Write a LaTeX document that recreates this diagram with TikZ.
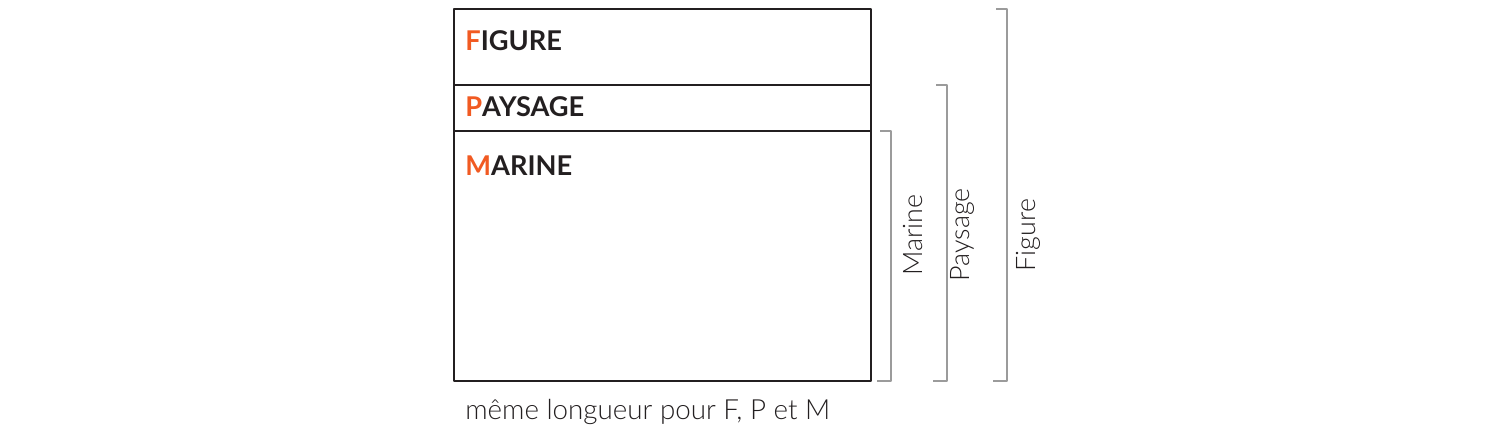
\documentclass[tikz,border=0pt]{standalone}
\usepackage{fontspec}
\setmainfont{Lato}
\newfontfamily\lightfont{Lato Light}
\definecolor{orangeF}{HTML}{F15A22}
\definecolor{grisB}{HTML}{9B9B9B}
\definecolor{noirT}{HTML}{231F20}
\begin{document}
\begin{tikzpicture}[x=0.02cm, y=-0.02cm, line join=round]
	\tikzset{titre/.style={anchor=base west, inner sep=0pt, text=noirT, font=\bfseries\fontsize{15.5}{18}\selectfont},
		legende/.style={inner sep=0pt, rotate=90, text=noirT, font=\lightfont\fontsize{15.3}{18}\selectfont},
		crochet/.style={draw=grisB, line width=0.8pt}}
	\useasboundingbox (0,0) rectangle (1500,435);
	%Cadres
	\draw[line width=1.1pt, draw=noirT] (454,9) rectangle (871,381);
	\draw[line width=1.1pt, draw=noirT] (454,85)--(871,85) (454,131)--(871,131);
	%Titres
	\node[titre] (figure) at (465,51) {\textcolor{orangeF}{F}IGURE};
	\node[titre] (paysage) at (465,117) {\textcolor{orangeF}{P}AYSAGE};
	\node[titre] (marine) at (465,176) {\textcolor{orangeF}{M}ARINE};
	%Crochets
	\foreach \nom/\haut/\xc/\xl in {Marine/131/891/913, Paysage/85/947/962, Figure/9/1007/1028}{
		\coordinate (h\nom) at (\xc,\haut);
		\coordinate (b\nom) at (\xc,381);
		\draw[crochet] (h\nom) ++(-11,0)--(h\nom)--(b\nom)--++(-14,0);
		\node[legende] (l\nom) at (\xl,235) {\nom};
	}
	\node[anchor=base west, inner sep=0pt, text=noirT, font=\lightfont\fontsize{15.8}{18}\selectfont] (note) at (465,419) {même longueur pour F, P et M};
\end{tikzpicture}
\end{document}
